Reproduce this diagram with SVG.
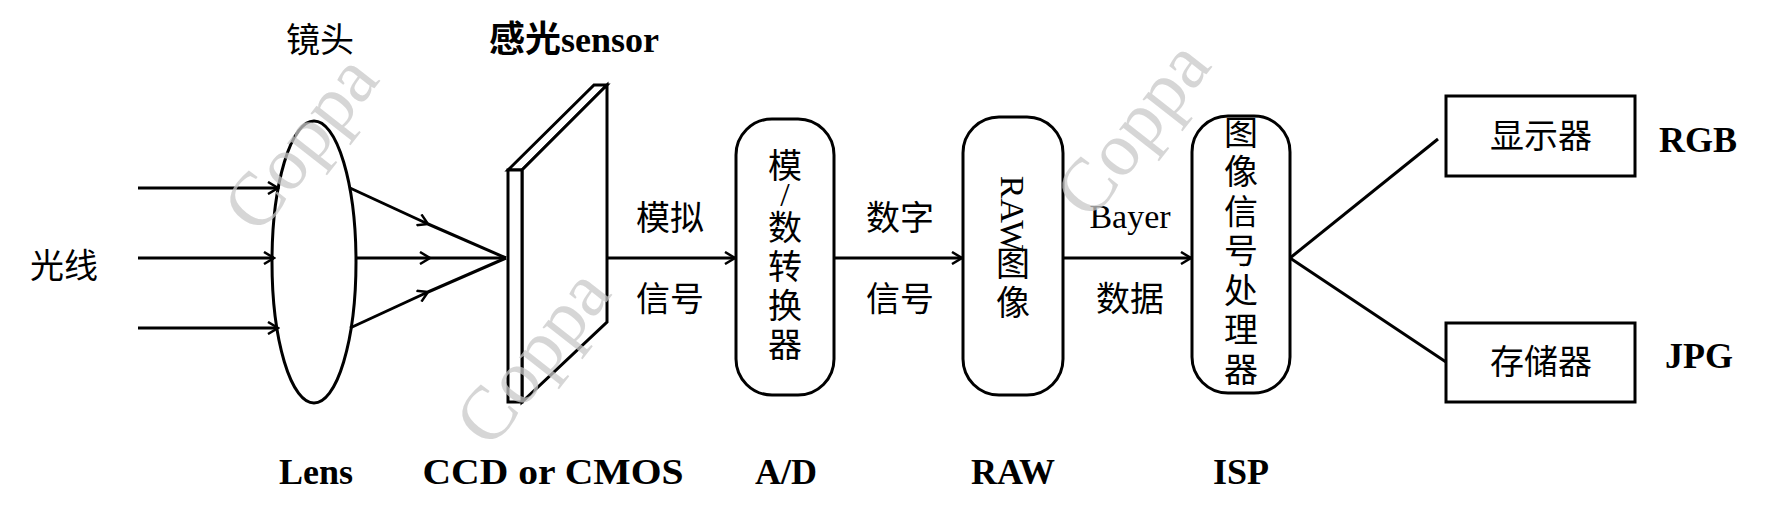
<svg xmlns="http://www.w3.org/2000/svg" width="1766" height="518" viewBox="0 0 1766 518">
<style>
.s{stroke:#000;stroke-width:3;fill:none}
.b{stroke:#000;stroke-width:3;fill:#fff}
.t{font-family:"Liberation Serif","Noto Sans CJK SC",serif;font-size:34px;fill:#000}
.lb{font-family:"Liberation Serif","Noto Sans CJK SC",serif;font-size:36px;font-weight:bold;fill:#000}
.wm{font-family:"Liberation Serif",serif;font-size:76px;fill:#c8c8c8;fill-opacity:0.75}
</style>
<defs>
<marker id="a" markerWidth="14" markerHeight="14" refX="12" refY="7" orient="auto" markerUnits="userSpaceOnUse">
<path d="M2,1 L12,7 L2,13" fill="none" stroke="#000" stroke-width="2.5"/>
</marker>
</defs>
<g id="labels">
<text class="t" x="64" y="278" text-anchor="middle">光线</text>
<text class="t" x="320" y="52" text-anchor="middle">镜头</text>
<text class="lb" x="574" y="52" text-anchor="middle">感光sensor</text>
<text class="lb" x="316" y="484" text-anchor="middle">Lens</text>
<text class="lb" x="553" y="484" text-anchor="middle" textLength="261" lengthAdjust="spacingAndGlyphs">CCD or CMOS</text>
<text class="lb" x="786" y="484" text-anchor="middle">A/D</text>
<text class="lb" x="1013" y="484" text-anchor="middle">RAW</text>
<text class="lb" x="1241" y="484" text-anchor="middle">ISP</text>
<text class="lb" x="1698" y="152" text-anchor="middle">RGB</text>
<text class="lb" x="1699" y="368" text-anchor="middle">JPG</text>
<text class="t" x="670" y="230" text-anchor="middle">模拟</text>
<text class="t" x="670" y="311" text-anchor="middle">信号</text>
<text class="t" x="900" y="230" text-anchor="middle">数字</text>
<text class="t" x="900" y="311" text-anchor="middle">信号</text>
<text class="t" x="1130" y="228" text-anchor="middle">Bayer</text>
<text class="t" x="1130" y="311" text-anchor="middle">数据</text>
</g>
<g id="connectors">
<line class="s" x1="138" y1="188" x2="278" y2="188" marker-end="url(#a)"/>
<line class="s" x1="138" y1="258" x2="274" y2="258" marker-end="url(#a)"/>
<line class="s" x1="138" y1="328" x2="278" y2="328" marker-end="url(#a)"/>
<line class="s" x1="350" y1="188" x2="428" y2="224" marker-end="url(#a)"/>
<line class="s" x1="428" y1="224" x2="506" y2="258"/>
<line class="s" x1="356" y1="258" x2="430" y2="258" marker-end="url(#a)"/>
<line class="s" x1="430" y1="258" x2="506" y2="258"/>
<line class="s" x1="350" y1="328" x2="428" y2="292" marker-end="url(#a)"/>
<line class="s" x1="428" y1="292" x2="506" y2="258"/>
<line class="s" x1="607" y1="258" x2="735" y2="258" marker-end="url(#a)"/>
<line class="s" x1="834" y1="258" x2="962" y2="258" marker-end="url(#a)"/>
<line class="s" x1="1063" y1="258" x2="1191" y2="258" marker-end="url(#a)"/>
<line class="s" x1="1290" y1="258" x2="1438" y2="139"/>
<line class="s" x1="1290" y1="258" x2="1446" y2="362"/>
</g>
<g id="lens"><ellipse class="s" cx="314" cy="262" rx="42" ry="141"/></g>
<g id="sensor">
<polygon class="b" points="508,170 594,85 607,85 522,170"/>
<polygon class="b" points="522,170 607,85 607,322 522,402"/>
<rect class="b" x="508" y="170" width="14" height="232"/>
</g>
<g id="ad">
<rect class="s" x="736" y="119" width="98" height="276" rx="36"/>
<text class="t" x="785" y="178" text-anchor="middle">模</text>
<text class="t" x="785" y="206" text-anchor="middle" font-size="24">/</text>
<text class="t" x="785" y="240" text-anchor="middle">数</text>
<text class="t" x="785" y="279" text-anchor="middle">转</text>
<text class="t" x="785" y="318" text-anchor="middle">换</text>
<text class="t" x="785" y="357" text-anchor="middle">器</text>
</g>
<g id="raw">
<rect class="s" x="963" y="117" width="100" height="278" rx="36"/>
<text class="t" transform="translate(1001,214) rotate(90)" text-anchor="middle">RAW</text>
<text class="t" x="1013" y="276" text-anchor="middle">图</text>
<text class="t" x="1013" y="315" text-anchor="middle">像</text>
</g>
<g id="isp">
<rect class="s" x="1192" y="116" width="98" height="277" rx="36"/>
<text class="t" x="1241" y="145" text-anchor="middle">图</text>
<text class="t" x="1241" y="184" text-anchor="middle">像</text>
<text class="t" x="1241" y="224" text-anchor="middle">信</text>
<text class="t" x="1241" y="263" text-anchor="middle">号</text>
<text class="t" x="1241" y="303" text-anchor="middle">处</text>
<text class="t" x="1241" y="342" text-anchor="middle">理</text>
<text class="t" x="1241" y="382" text-anchor="middle">器</text>
</g>
<g id="display">
<rect class="s" x="1446" y="96" width="189" height="80"/>
<text class="t" x="1541" y="148" text-anchor="middle">显示器</text>
</g>
<g id="storage">
<rect class="s" x="1446" y="323" width="189" height="79"/>
<text class="t" x="1541" y="374" text-anchor="middle">存储器</text>
</g>
<g id="watermarks">
<text class="wm" transform="translate(320,158) rotate(-52)" text-anchor="middle">Coppa</text>
<text class="wm" transform="translate(552,372) rotate(-52)" text-anchor="middle">Coppa</text>
<text class="wm" transform="translate(1152,144) rotate(-52)" text-anchor="middle">Coppa</text>
</g>
</svg>
